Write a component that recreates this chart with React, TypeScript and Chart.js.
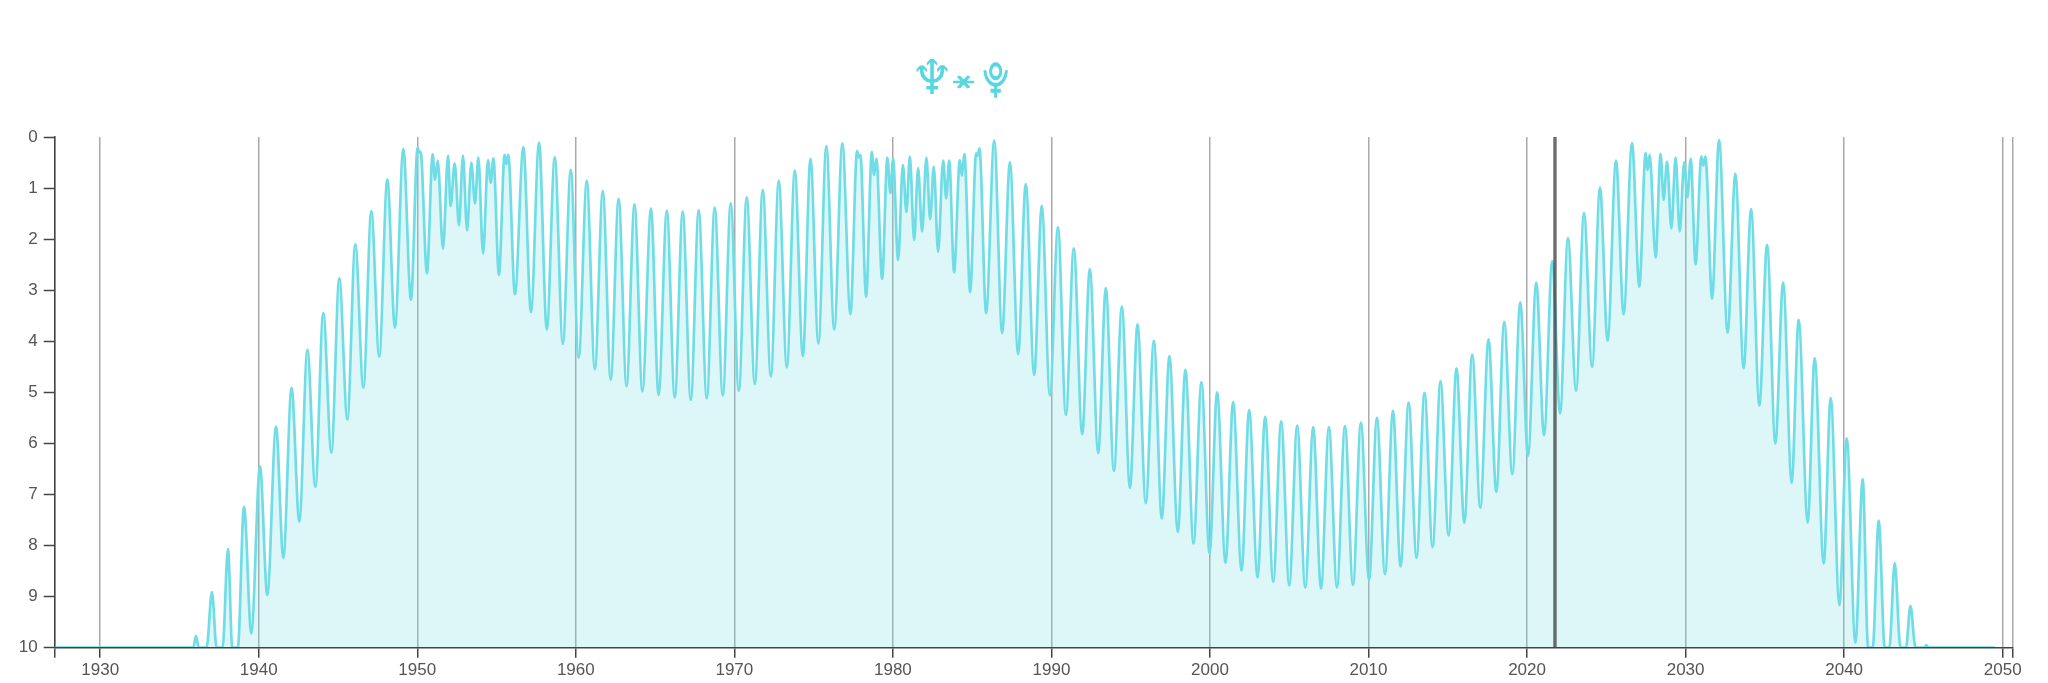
import React, { useEffect, useRef } from "react";
import { Chart, registerables } from "chart.js";

Chart.register(...registerables);

const titleGlyphs = ["♆", "⚹", "⯓"];
const decadeTicks = [1930, 1940, 1950, 1960, 1970, 1980, 1990, 2000, 2010, 2020, 2030, 2040, 2050];
const orbTicks = [0, 1, 2, 3, 4, 5, 6, 7, 8, 9, 10];
const axisStart = 1927.13;
const axisEnd = 2050.65;
const nowYear = 2021.76;

const years = [
  1927.13, 1935.87, 1936.04, 1936.21, 1936.71, 1937.05, 1937.34, 1937.72, 1938.06, 1938.33, 1938.68,
  1939.07, 1939.53, 1940.08, 1940.54, 1941.09, 1941.55, 1942.07, 1942.56, 1943.07, 1943.57, 1944.07,
  1944.58, 1945.08, 1945.59, 1946.09, 1946.6, 1947.1, 1947.6, 1948.11, 1948.59, 1949.12, 1949.6,
  1950.02, 1950.12, 1950.21, 1950.61, 1950.97, 1951.12, 1951.29, 1951.62, 1951.94, 1952.1, 1952.36,
  1952.63, 1952.88, 1953.14, 1953.41, 1953.64, 1953.85, 1954.15, 1954.46, 1954.63, 1954.8, 1955.15,
  1955.51, 1955.62, 1955.74, 1956.16, 1956.69, 1957.17, 1957.68, 1958.17, 1958.67, 1959.18, 1959.68,
  1960.18, 1960.69, 1961.2, 1961.7, 1962.2, 1962.7, 1963.2, 1963.7, 1964.2, 1964.74, 1965.22, 1965.74,
  1966.24, 1966.74, 1967.25, 1967.75, 1968.26, 1968.76, 1969.27, 1969.77, 1970.28, 1970.78, 1971.29,
  1971.79, 1972.3, 1972.8, 1973.31, 1973.81, 1974.32, 1974.8, 1975.3, 1975.8, 1976.3, 1976.81, 1977.32,
  1977.74, 1977.82, 1977.95, 1978.31, 1978.67, 1978.81, 1978.96, 1979.32, 1979.65, 1979.84, 1980.01,
  1980.33, 1980.63, 1980.85, 1981.07, 1981.34, 1981.59, 1981.84, 1982.11, 1982.35, 1982.58, 1982.85,
  1983.17, 1983.36, 1983.55, 1983.86, 1984.22, 1984.35, 1984.51, 1984.87, 1985.25, 1985.33, 1985.46,
  1985.88, 1986.39, 1986.89, 1987.38, 1987.9, 1988.38, 1988.91, 1989.39, 1989.9, 1990.41, 1990.91,
  1991.41, 1991.94, 1992.42, 1992.95, 1993.43, 1993.94, 1994.44, 1994.95, 1995.43, 1995.95, 1996.46,
  1996.96, 1997.44, 1997.97, 1998.45, 1998.96, 1999.46, 1999.97, 2000.45, 2000.98, 2001.46, 2001.99,
  2002.47, 2003.0, 2003.48, 2003.99, 2004.49, 2005.0, 2005.5, 2006.01, 2006.51, 2007.0, 2007.5, 2008.01,
  2008.51, 2009.02, 2009.52, 2010.03, 2010.53, 2011.04, 2011.54, 2012.02, 2012.53, 2013.03, 2013.53,
  2014.04, 2014.54, 2015.05, 2015.55, 2016.04, 2016.54, 2017.05, 2017.57, 2018.06, 2018.56, 2019.07,
  2019.57, 2020.06, 2020.58, 2021.07, 2021.59, 2022.08, 2022.58, 2023.09, 2023.59, 2024.1, 2024.6,
  2025.08, 2025.61, 2026.09, 2026.62, 2027.08, 2027.48, 2027.6, 2027.73, 2028.11, 2028.42, 2028.61,
  2028.83, 2029.1, 2029.37, 2029.63, 2029.91, 2030.11, 2030.32, 2030.63, 2030.99, 2031.12, 2031.25,
  2031.67, 2032.11, 2032.65, 2033.14, 2033.66, 2034.13, 2034.65, 2035.14, 2035.66, 2036.15, 2036.69,
  2037.13, 2037.7, 2038.14, 2038.71, 2039.15, 2039.7, 2040.16, 2040.71, 2041.17, 2041.51, 2041.8,
  2042.18, 2042.56, 2042.85, 2043.19, 2043.55, 2043.9, 2044.18, 2044.5, 2045.05, 2045.18, 2045.3, 2049.5,
];

const orbs = [
  10, 10, 9.77, 10, 10, 8.91, 10, 10, 8.07, 10, 10,
  7.24, 9.72, 6.45, 8.97, 5.67, 8.24, 4.91, 7.53, 4.17, 6.85, 3.45,
  6.18, 2.77, 5.53, 2.1, 4.91, 1.45, 4.3, 0.83, 3.73, 0.235, 3.19,
  0.21, 0.3, 0.29, 2.67, 0.34, 0.84, 0.46, 2.19, 0.37, 1.35, 0.515,
  1.73, 0.365, 1.83, 0.5, 1.3, 0.405, 2.28, 0.45, 0.895, 0.417, 2.7,
  0.35, 0.53, 0.35, 3.08, 0.2, 3.43, 0.11, 3.77, 0.4, 4.05, 0.645,
  4.32, 0.86, 4.55, 1.06, 4.75, 1.21, 4.88, 1.32, 4.98, 1.4, 5.05, 1.44,
  5.1, 1.46, 5.15, 1.435, 5.12, 1.38, 5.06, 1.3, 4.97, 1.18, 4.84,
  1.04, 4.69, 0.86, 4.51, 0.66, 4.29, 0.43, 4.04, 0.176, 3.77, 0.124, 3.47,
  0.27, 0.4, 0.35, 3.13, 0.29, 0.74, 0.43, 2.78, 0.405, 1.1, 0.43,
  2.41, 0.55, 1.47, 0.385, 2.02, 0.61, 1.85, 0.405, 1.61, 0.58, 2.25,
  0.46, 1.2, 0.46, 2.65, 0.45, 0.76, 0.33, 3.04, 0.32, 0.37, 0.22,
  3.45, 0.07, 3.84, 0.495, 4.25, 0.92, 4.66, 1.35, 5.06, 1.77, 5.44,
  2.18, 5.82, 2.585, 6.19, 2.96, 6.54, 3.32, 6.87, 3.67, 7.17, 3.99,
  7.47, 4.29, 7.73, 4.56, 7.96, 4.8, 8.15, 5.0, 8.34, 5.19, 8.49,
  5.35, 8.62, 5.48, 8.71, 5.57, 8.78, 5.65, 8.82, 5.68, 8.84, 5.68, 8.82,
  5.66, 8.77, 5.59, 8.67, 5.5, 8.56, 5.36, 8.41, 5.2, 8.24, 5.01,
  8.03, 4.78, 7.8, 4.53, 7.55, 4.26, 7.26, 3.96, 6.95, 3.62, 6.6,
  3.24, 6.24, 2.85, 5.84, 2.43, 5.41, 1.98, 4.97, 1.49, 4.5, 0.99,
  3.99, 0.46, 3.47, 0.12, 2.93, 0.31, 0.65, 0.35, 2.36, 0.33, 1.23,
  0.48, 1.79, 0.4, 1.85, 0.495, 1.18, 0.43, 2.49, 0.385, 0.56, 0.385,
  3.16, 0.06, 3.83, 0.72, 4.53, 1.41, 5.26, 2.11, 6.0, 2.85, 6.77,
  3.58, 7.55, 4.33, 8.35, 5.11, 9.16, 5.9, 9.9, 6.7, 10, 10,
  7.51, 10, 10, 8.34, 10, 10, 9.18, 10, 10, 9.95, 10, 10,
];

const lineColor = "#70dde6";
const titleColor = "#5ad6e0";

const titlePlugin = {
  id: "glyphTitle",
  afterDraw(chart: Chart) {
    const { ctx } = chart;
    const slots = [
      { x: 932, size: 48, sx: 1, sy: 1, stroke: 0, weight: "bold" },
      { x: 964, size: 36, sx: 1, sy: 0.62, stroke: 1.2, weight: "normal" },
      { x: 996, size: 36, sx: 0.72, sy: 1, stroke: 1.4, weight: "normal" },
    ];
    ctx.fillStyle = titleColor;
    ctx.strokeStyle = titleColor;
    ctx.textAlign = "center";
    ctx.textBaseline = "middle";
    titleGlyphs.forEach((g, i) => {
      const s = slots[i];
      ctx.save();
      ctx.translate(s.x, 82);
      ctx.scale(s.sx, s.sy);
      ctx.font = `${s.weight} ${s.size}px 'DejaVu Sans', 'Noto Sans'`;
      ctx.fillText(g, 0, 0);
      if (s.stroke) {
        ctx.lineWidth = s.stroke;
        ctx.strokeText(g, 0, 0);
      }
      ctx.restore();
    });
  },
};

export default function App() {
  const ref = useRef<HTMLCanvasElement>(null);
  useEffect(() => {
    if (!ref.current) return;
    const chart = new Chart(ref.current, {
      type: "line",
      plugins: [titlePlugin],
      data: {
        datasets: [
          {
            data: [{ x: nowYear, y: 0 }, { x: nowYear, y: 10 }],
            borderColor: "rgba(60,60,60,0.75)",
            borderWidth: 3.4,
            pointRadius: 0,
            fill: false,
            order: 0,
          },
          {
            data: years.map((x, i) => ({ x, y: orbs[i] })),
            borderColor: lineColor,
            backgroundColor: "rgba(108,220,229,0.23)",
            borderWidth: 2.7,
            pointRadius: 0,
            cubicInterpolationMode: "monotone",
            fill: { value: 10 },
            order: 1,
          },
        ],
      },
      options: {
        responsive: false,
        animation: false,
        layout: { padding: { top: 137, right: 35, left: 0, bottom: 0 } },
        plugins: { legend: { display: false }, title: { display: false }, tooltip: { enabled: false } },
        scales: {
          x: {
            type: "linear",
            min: axisStart,
            max: axisEnd,
            afterBuildTicks: (s: any) => {
              s.ticks = [axisStart, ...decadeTicks, axisEnd].map((value) => ({ value }));
            },
            afterFit: (s: any) => {
              s.height = 35.3;
            },
            ticks: {
              autoSkip: false,
              maxRotation: 0,
              padding: 2,
              color: "#555",
              font: { family: "'Liberation Sans'", size: 17 },
              callback: (v: any) => (decadeTicks.includes(v) ? String(v) : ""),
            },
            grid: { color: "#aaa", lineWidth: 1.5, tickColor: "#444", tickLength: 10, tickWidth: 1.5 },
            border: { color: "#444", width: 1.5, z: 1 },
          },
          y: {
            reverse: true,
            min: 0,
            max: 10,
            afterBuildTicks: (s: any) => {
              s.ticks = orbTicks.map((value) => ({ value }));
            },
            afterFit: (s: any) => {
              s.width = 54.7;
            },
            ticks: {
              padding: 6,
              color: "#555",
              font: { family: "'Liberation Sans'", size: 17 },
            },
            grid: { drawOnChartArea: false, tickColor: "#444", tickLength: 11, tickWidth: 1.5 },
            border: { color: "#444", width: 1.5 },
          },
        },
      },
    } as any);
    return () => chart.destroy();
  }, []);
  return (
    <div style={{ position: "absolute", left: 0, top: 0, width: 2048, height: 683, background: "#fff" }}>
      <canvas ref={ref} width={2048} height={683} style={{ display: "block" }} />
    </div>
  );
}
